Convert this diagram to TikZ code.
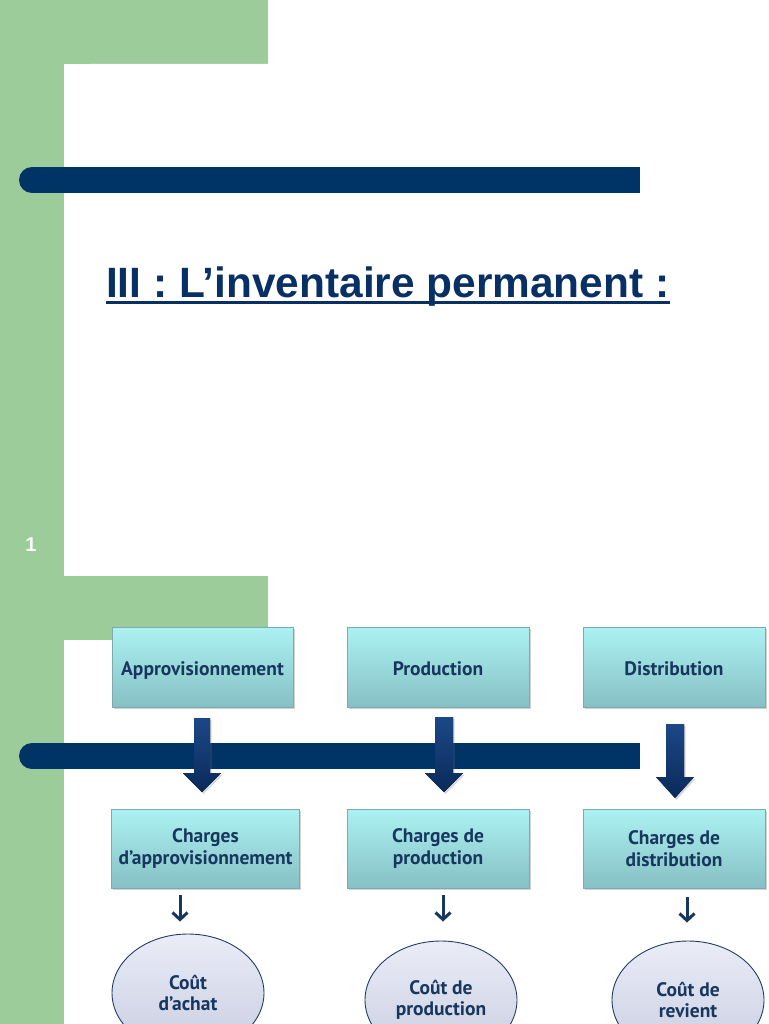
\documentclass[tikz,border=0pt]{standalone}
\usepackage{fontspec}
\setmainfont{Liberation Sans}
\newfontfamily\boxfont{PT Sans}
\usetikzlibrary{shapes.geometric,arrows.meta,shadows,calc}
\definecolor{slidegreen}{RGB}{155,204,153}
\definecolor{barblue}{RGB}{0,51,102}
\definecolor{titleblue}{RGB}{8,48,100}
\definecolor{txtblue}{RGB}{23,55,94}
\definecolor{boxtop}{RGB}{172,242,242}
\definecolor{boxbot}{RGB}{134,192,196}
\definecolor{boxedge}{RGB}{125,170,175}
\definecolor{elltop}{RGB}{234,236,246}
\definecolor{ellbot}{RGB}{200,205,225}
\definecolor{elledge}{RGB}{35,60,105}
\definecolor{arrtop}{RGB}{28,72,135}
\definecolor{arrbot}{RGB}{10,42,90}
\tikzset{
  stagebox/.style={rectangle, draw=boxedge, line width=0.6pt, top color=boxtop, bottom color=boxbot,
    drop shadow={opacity=0.35, shadow xshift=1.5pt, shadow yshift=-2pt},
    text=txtblue, font=\boxfont\bfseries\fontsize{19.5}{21.5}\selectfont, align=center, inner sep=0pt},
  oneline/.style={text height=18pt, text depth=2pt},
  costell/.style={ellipse, draw=elledge, line width=0.9pt, top color=elltop, bottom color=ellbot,
    minimum width=152pt, minimum height=118pt, inner sep=0pt,
    text=txtblue, font=\boxfont\bfseries\fontsize{19.5}{21.5}\selectfont, align=center},
  smallarr/.style={draw=txtblue, line width=3pt, -{Straight Barb[length=7pt,width=15pt]}},
  bigarr/.style={top color=arrtop, bottom color=arrbot,
    drop shadow={opacity=0.3, shadow xshift=1.5pt, shadow yshift=-2pt}},
  bar/.style={fill=barblue}
}
\begin{document}
\begin{tikzpicture}[x=1pt,y=-1pt]
\useasboundingbox (0,0) rectangle (768,1024);
\clip (0,0) rectangle (768,1024);
\fill[white] (0,0) rectangle (768,1024);
% green frame
\fill[slidegreen] (0,0) rectangle (268,64);
\fill[slidegreen] (0,0) rectangle (64,1024);
% white slide area with rounded top-left corner
\fill[white, rounded corners=26pt] (64,64) rectangle (600,620);
% second slide
\fill[slidegreen] (0,576) rectangle (268,640);
\fill[white, rounded corners=26pt] (64,640) rectangle (600,1100);
% bars
\fill[bar] (32,167) rectangle (640,193);
\fill[bar] (32,180) circle[radius=13];
\fill[bar] (32,743) rectangle (640,769);
\fill[bar] (32,756) circle[radius=13];
% title
\node[anchor=base west, inner sep=0pt, text=titleblue, font=\bfseries\fontsize{42.4}{50}\selectfont] (title) at (106,297) {III : L’inventaire permanent :};
\draw[titleblue, line width=3pt] ([yshift=-5.5pt]title.base west) -- ([yshift=-5.5pt]title.base east);
% slide number
\node[text=white, font=\bfseries\fontsize{20}{24}\selectfont, inner sep=0pt] (num) at (31,545) {1};
% top boxes
\node[stagebox, oneline, minimum width=181pt, minimum height=80pt] (a1) at (202.5,667) {Approvisionnement};
\node[stagebox, oneline, minimum width=182pt, minimum height=80pt] (a2) at (438,667) {Production};
\node[stagebox, oneline, minimum width=182pt, minimum height=80pt] (a3) at (674,667) {Distribution};
% big arrows
\fill[bigarr] (194,718) -- (210,718) -- (210,773) -- (221,773) -- (202,792) -- (183,773) -- (194,773) -- cycle;
\fill[bigarr] (435,717) -- (453,717) -- (453,773) -- (463,773) -- (444,792) -- (425,773) -- (435,773) -- cycle;
\fill[bigarr] (666,724) -- (684,724) -- (684,777) -- (694,777) -- (675,798) -- (656,777) -- (666,777) -- cycle;
% second boxes
\node[stagebox, minimum width=188pt, minimum height=79pt] (c1) at (205.5,848.5) {Charges\\d’approvisionnement};
\node[stagebox, minimum width=182pt, minimum height=79pt] (c2) at (438,848.5) {Charges de\\production};
\node[stagebox, minimum width=182pt, minimum height=79pt] (c3) at (674,848.5) {Charges de\\distribution};
% ellipses
\node[costell] (e1) at (188,993) {Coût\\d’achat};
\node[costell] (e2) at (441,1000) {Coût de\\production};
\node[costell] (e3) at (688,1000) {Coût de\\revient};
% small arrows
\draw[smallarr] ($(e1.north |- c1.south)+(-8,7)$) -- ($(e1.north)+(-8,-12)$);
\draw[smallarr] ($(e2.north |- c2.south)+(2,7)$) -- ($(e2.north)+(2,-19)$);
\draw[smallarr] ($(e3.north |- c3.south)+(-1,9)$) -- ($(e3.north)+(-1,-18)$);
\end{tikzpicture}
\end{document}
